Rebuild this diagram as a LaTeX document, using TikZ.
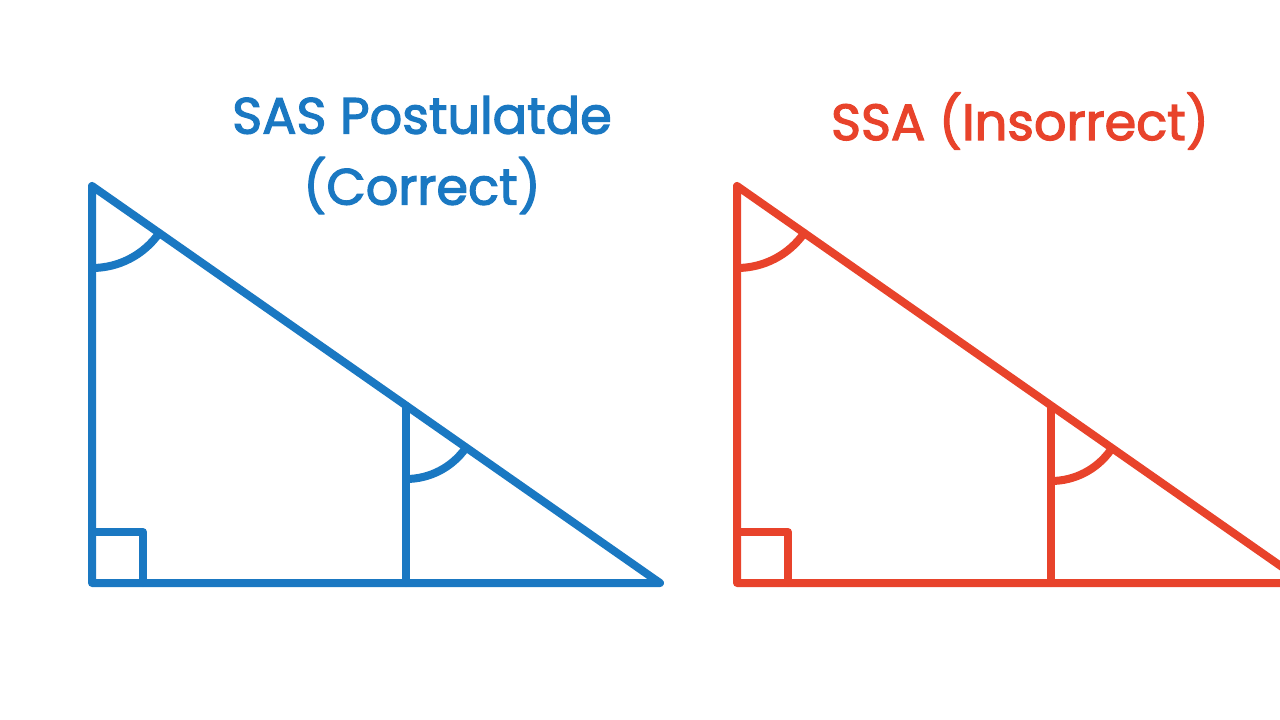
\documentclass[tikz,border=0pt]{standalone}
\usepackage{fontspec}
\setmainfont{Poppins}[FakeBold=2.4]
\definecolor{sasblue}{HTML}{1A78C2}
\definecolor{ssared}{HTML}{E8432B}
\tikzset{
  tri/.style={line width=8pt, line join=round, line cap=round},
  title/.style={font=\fontsize{51}{71}\selectfont, align=center, inner sep=0pt}
}
\begin{document}
\begin{tikzpicture}[x=1pt,y=-1pt]
\useasboundingbox (0,0) rectangle (1280,720);
\clip (0,0) rectangle (1280,720);
% titles
\node[title, text=sasblue] (t1) at (422,155) {SAS Postulatde\\(Correct)};
\node[title, text=ssared] (t2) at (1020,121) {SSA (Insorrect)};
% blue triangle
\begin{scope}[sasblue]
\coordinate (A) at (92,186);
\coordinate (B) at (92,583);
\coordinate (C) at (660,583);
\coordinate (D) at (406,583);
\coordinate (E) at (406,405.5);
\draw[tri] (A) -- (B) -- (C) -- cycle;
\draw[tri] (D) -- (E);
\draw[tri] (92,532) -- (143,532) -- (143,583);
\draw[tri] (92,268) arc[start angle=90, end angle=35, radius=82];
\draw[tri] (406,479) arc[start angle=90, end angle=35, radius=73];
\end{scope}
% red triangle
\begin{scope}[ssared]
\coordinate (A2) at (737,186);
\coordinate (B2) at (737,583);
\coordinate (C2) at (1305,583);
\coordinate (D2) at (1051,583);
\coordinate (E2) at (1051,408);
\draw[tri] (A2) -- (B2) -- (C2) -- cycle;
\draw[tri] (D2) -- (E2);
\draw[tri] (737,532) -- (788,532) -- (788,583);
\draw[tri] (737,268) arc[start angle=90, end angle=35, radius=82];
\draw[tri] (1051,481) arc[start angle=90, end angle=35, radius=73];
\end{scope}
\end{tikzpicture}
\end{document}
